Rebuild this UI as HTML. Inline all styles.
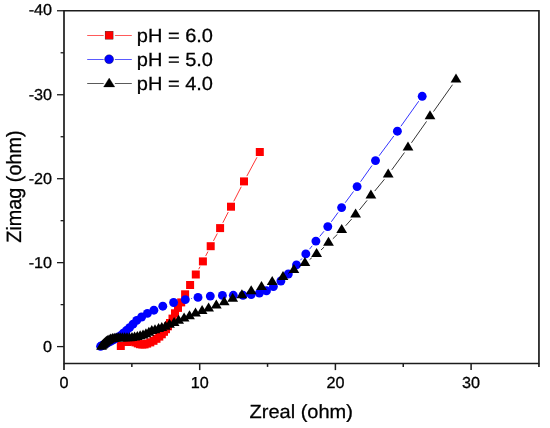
<!DOCTYPE html>
<html lang="en"><head><meta charset="utf-8"><title>Nyquist plot</title>
<style>html,body{margin:0;padding:0;background:#fff}body{width:550px;height:428px;overflow:hidden}</style></head>
<body>
<svg width="550" height="428" viewBox="0 0 550 428" style="display:block">
<rect width="550" height="428" fill="#fff"/>
<g id="red">
<line x1="198.66" y1="269.22" x2="200.04" y2="266.68" stroke="#ff0000" stroke-width="0.8"/>
<line x1="205.64" y1="256.06" x2="207.96" y2="251.54" stroke="#ff0000" stroke-width="0.8"/>
<line x1="213.47" y1="240.88" x2="217.33" y2="233.42" stroke="#ff0000" stroke-width="0.8"/>
<line x1="222.82" y1="222.75" x2="228.28" y2="212.05" stroke="#ff0000" stroke-width="0.8"/>
<line x1="233.74" y1="201.36" x2="241.26" y2="186.74" stroke="#ff0000" stroke-width="0.8"/>
<line x1="246.84" y1="176.11" x2="256.96" y2="157.29" stroke="#ff0000" stroke-width="0.8"/>
<rect x="116.80" y="342.00" width="8" height="8" fill="#ff0000"/>
<rect x="123.00" y="338.00" width="8" height="8" fill="#ff0000"/>
<rect x="126.00" y="337.40" width="8" height="8" fill="#ff0000"/>
<rect x="129.00" y="337.50" width="8" height="8" fill="#ff0000"/>
<rect x="131.50" y="338.40" width="8" height="8" fill="#ff0000"/>
<rect x="133.80" y="339.40" width="8" height="8" fill="#ff0000"/>
<rect x="136.00" y="340.20" width="8" height="8" fill="#ff0000"/>
<rect x="138.30" y="340.50" width="8" height="8" fill="#ff0000"/>
<rect x="140.60" y="340.40" width="8" height="8" fill="#ff0000"/>
<rect x="143.20" y="339.60" width="8" height="8" fill="#ff0000"/>
<rect x="146.30" y="338.40" width="8" height="8" fill="#ff0000"/>
<rect x="149.50" y="336.80" width="8" height="8" fill="#ff0000"/>
<rect x="152.50" y="334.80" width="8" height="8" fill="#ff0000"/>
<rect x="155.30" y="332.60" width="8" height="8" fill="#ff0000"/>
<rect x="157.80" y="330.30" width="8" height="8" fill="#ff0000"/>
<rect x="160.00" y="327.80" width="8" height="8" fill="#ff0000"/>
<rect x="162.00" y="325.20" width="8" height="8" fill="#ff0000"/>
<rect x="164.00" y="322.30" width="8" height="8" fill="#ff0000"/>
<rect x="166.00" y="319.00" width="8" height="8" fill="#ff0000"/>
<rect x="168.50" y="314.60" width="8" height="8" fill="#ff0000"/>
<rect x="171.00" y="309.30" width="8" height="8" fill="#ff0000"/>
<rect x="174.00" y="303.90" width="8" height="8" fill="#ff0000"/>
<rect x="177.20" y="298.40" width="8" height="8" fill="#ff0000"/>
<rect x="181.10" y="290.30" width="8" height="8" fill="#ff0000"/>
<rect x="186.10" y="281.00" width="8" height="8" fill="#ff0000"/>
<rect x="191.80" y="270.50" width="8" height="8" fill="#ff0000"/>
<rect x="198.90" y="257.40" width="8" height="8" fill="#ff0000"/>
<rect x="206.70" y="242.20" width="8" height="8" fill="#ff0000"/>
<rect x="216.10" y="224.10" width="8" height="8" fill="#ff0000"/>
<rect x="227.00" y="202.70" width="8" height="8" fill="#ff0000"/>
<rect x="240.00" y="177.40" width="8" height="8" fill="#ff0000"/>
<rect x="255.80" y="148.00" width="8" height="8" fill="#ff0000"/>
</g><g id="blue">
<line x1="191.21" y1="298.58" x2="192.09" y2="298.42" stroke="#0000ff" stroke-width="0.8"/>
<line x1="300.37" y1="260.32" x2="301.93" y2="258.48" stroke="#0000ff" stroke-width="0.8"/>
<line x1="309.52" y1="249.19" x2="312.18" y2="245.81" stroke="#0000ff" stroke-width="0.8"/>
<line x1="319.71" y1="236.46" x2="323.99" y2="231.24" stroke="#0000ff" stroke-width="0.8"/>
<line x1="331.33" y1="221.75" x2="338.07" y2="212.45" stroke="#0000ff" stroke-width="0.8"/>
<line x1="345.16" y1="202.77" x2="353.54" y2="191.43" stroke="#0000ff" stroke-width="0.8"/>
<line x1="360.57" y1="181.70" x2="372.03" y2="165.50" stroke="#0000ff" stroke-width="0.8"/>
<line x1="379.08" y1="155.79" x2="393.82" y2="136.01" stroke="#0000ff" stroke-width="0.8"/>
<line x1="400.88" y1="126.31" x2="418.72" y2="101.19" stroke="#0000ff" stroke-width="0.8"/>
<circle cx="100.60" cy="346.30" r="4.45" fill="#0000ff"/>
<circle cx="101.89" cy="345.66" r="4.45" fill="#0000ff"/>
<circle cx="103.30" cy="344.95" r="4.45" fill="#0000ff"/>
<circle cx="104.84" cy="344.18" r="4.45" fill="#0000ff"/>
<circle cx="106.55" cy="343.33" r="4.45" fill="#0000ff"/>
<circle cx="108.41" cy="342.39" r="4.45" fill="#0000ff"/>
<circle cx="110.45" cy="341.35" r="4.45" fill="#0000ff"/>
<circle cx="112.66" cy="340.16" r="4.45" fill="#0000ff"/>
<circle cx="115.09" cy="338.84" r="4.45" fill="#0000ff"/>
<circle cx="117.76" cy="337.40" r="4.45" fill="#0000ff"/>
<circle cx="120.53" cy="335.59" r="4.45" fill="#0000ff"/>
<circle cx="123.30" cy="333.21" r="4.45" fill="#0000ff"/>
<circle cx="126.31" cy="330.56" r="4.45" fill="#0000ff"/>
<circle cx="129.57" cy="327.60" r="4.45" fill="#0000ff"/>
<circle cx="133.01" cy="324.22" r="4.45" fill="#0000ff"/>
<circle cx="136.70" cy="320.40" r="4.45" fill="#0000ff"/>
<circle cx="141.60" cy="317.00" r="4.45" fill="#0000ff"/>
<circle cx="147.40" cy="313.40" r="4.45" fill="#0000ff"/>
<circle cx="153.90" cy="310.20" r="4.45" fill="#0000ff"/>
<circle cx="162.80" cy="306.20" r="4.45" fill="#0000ff"/>
<circle cx="173.60" cy="302.50" r="4.45" fill="#0000ff"/>
<circle cx="185.30" cy="299.60" r="4.45" fill="#0000ff"/>
<circle cx="198.00" cy="297.40" r="4.45" fill="#0000ff"/>
<circle cx="210.30" cy="296.10" r="4.45" fill="#0000ff"/>
<circle cx="222.40" cy="295.40" r="4.45" fill="#0000ff"/>
<circle cx="233.30" cy="295.30" r="4.45" fill="#0000ff"/>
<circle cx="243.00" cy="295.30" r="4.45" fill="#0000ff"/>
<circle cx="251.20" cy="294.50" r="4.45" fill="#0000ff"/>
<circle cx="259.40" cy="293.10" r="4.45" fill="#0000ff"/>
<circle cx="266.50" cy="290.80" r="4.45" fill="#0000ff"/>
<circle cx="273.40" cy="286.60" r="4.45" fill="#0000ff"/>
<circle cx="280.90" cy="281.00" r="4.45" fill="#0000ff"/>
<circle cx="288.30" cy="274.00" r="4.45" fill="#0000ff"/>
<circle cx="296.50" cy="264.90" r="4.45" fill="#0000ff"/>
<circle cx="305.80" cy="253.90" r="4.45" fill="#0000ff"/>
<circle cx="315.90" cy="241.10" r="4.45" fill="#0000ff"/>
<circle cx="327.80" cy="226.60" r="4.45" fill="#0000ff"/>
<circle cx="341.60" cy="207.60" r="4.45" fill="#0000ff"/>
<circle cx="357.10" cy="186.60" r="4.45" fill="#0000ff"/>
<circle cx="375.50" cy="160.60" r="4.45" fill="#0000ff"/>
<circle cx="397.40" cy="131.20" r="4.45" fill="#0000ff"/>
<circle cx="422.20" cy="96.30" r="4.45" fill="#0000ff"/>
</g><g id="black">
<line x1="288.05" y1="273.96" x2="288.85" y2="273.44" stroke="#000000" stroke-width="0.8"/>
<line x1="298.96" y1="266.98" x2="299.84" y2="266.42" stroke="#000000" stroke-width="0.8"/>
<line x1="309.64" y1="259.52" x2="311.86" y2="257.78" stroke="#000000" stroke-width="0.8"/>
<line x1="320.99" y1="250.01" x2="324.11" y2="247.09" stroke="#000000" stroke-width="0.8"/>
<line x1="332.81" y1="238.82" x2="337.39" y2="234.38" stroke="#000000" stroke-width="0.8"/>
<line x1="345.69" y1="225.72" x2="351.61" y2="219.08" stroke="#000000" stroke-width="0.8"/>
<line x1="359.38" y1="209.94" x2="367.12" y2="200.36" stroke="#000000" stroke-width="0.8"/>
<line x1="374.72" y1="191.07" x2="384.38" y2="179.33" stroke="#000000" stroke-width="0.8"/>
<line x1="391.75" y1="169.86" x2="404.45" y2="152.54" stroke="#000000" stroke-width="0.8"/>
<line x1="411.46" y1="142.80" x2="426.54" y2="121.40" stroke="#000000" stroke-width="0.8"/>
<line x1="433.47" y1="111.60" x2="452.53" y2="84.70" stroke="#000000" stroke-width="0.8"/>
<polygon points="101.50,340.70 106.90,349.70 96.10,349.70" fill="#000"/>
<polygon points="102.37,339.76 107.77,348.76 96.97,348.76" fill="#000"/>
<polygon points="103.27,338.79 108.67,347.79 97.87,347.79" fill="#000"/>
<polygon points="104.23,337.79 109.63,346.79 98.83,346.79" fill="#000"/>
<polygon points="105.29,336.81 110.69,345.81 99.89,345.81" fill="#000"/>
<polygon points="106.39,335.78 111.79,344.78 100.99,344.78" fill="#000"/>
<polygon points="107.70,334.93 113.10,343.93 102.30,343.93" fill="#000"/>
<polygon points="109.13,334.15 114.53,343.15 103.73,343.15" fill="#000"/>
<polygon points="110.70,333.50 116.10,342.50 105.30,342.50" fill="#000"/>
<polygon points="112.40,333.01 117.80,342.01 107.00,342.01" fill="#000"/>
<polygon points="114.21,332.66 119.61,341.66 108.81,341.66" fill="#000"/>
<polygon points="116.12,332.49 121.52,341.49 110.72,341.49" fill="#000"/>
<polygon points="118.12,332.34 123.52,341.34 112.72,341.34" fill="#000"/>
<polygon points="120.20,332.20 125.60,341.20 114.80,341.20" fill="#000"/>
<polygon points="122.37,332.20 127.77,341.20 116.97,341.20" fill="#000"/>
<polygon points="124.64,332.20 130.04,341.20 119.24,341.20" fill="#000"/>
<polygon points="126.99,332.20 132.39,341.20 121.59,341.20" fill="#000"/>
<polygon points="129.45,332.20 134.85,341.20 124.05,341.20" fill="#000"/>
<polygon points="131.99,331.96 137.39,340.96 126.59,340.96" fill="#000"/>
<polygon points="134.62,331.56 140.02,340.56 129.22,340.56" fill="#000"/>
<polygon points="137.33,330.92 142.73,339.92 131.93,339.92" fill="#000"/>
<polygon points="140.13,330.21 145.53,339.21 134.73,339.21" fill="#000"/>
<polygon points="143.05,329.45 148.45,338.45 137.65,338.45" fill="#000"/>
<polygon points="145.96,328.32 151.36,337.32 140.56,337.32" fill="#000"/>
<polygon points="148.89,326.86 154.29,335.86 143.49,335.86" fill="#000"/>
<polygon points="151.80,325.10 157.20,334.10 146.40,334.10" fill="#000"/>
<polygon points="155.00,324.30 160.40,333.30 149.60,333.30" fill="#000"/>
<polygon points="158.60,323.10 164.00,332.10 153.20,332.10" fill="#000"/>
<polygon points="161.80,322.00 167.20,331.00 156.40,331.00" fill="#000"/>
<polygon points="165.50,320.70 170.90,329.70 160.10,329.70" fill="#000"/>
<polygon points="169.50,318.80 174.90,327.80 164.10,327.80" fill="#000"/>
<polygon points="174.10,317.00 179.50,326.00 168.70,326.00" fill="#000"/>
<polygon points="178.60,314.80 184.00,323.80 173.20,323.80" fill="#000"/>
<polygon points="184.10,312.50 189.50,321.50 178.70,321.50" fill="#000"/>
<polygon points="189.50,310.20 194.90,319.20 184.10,319.20" fill="#000"/>
<polygon points="195.50,307.50 200.90,316.50 190.10,316.50" fill="#000"/>
<polygon points="202.10,305.00 207.50,314.00 196.70,314.00" fill="#000"/>
<polygon points="208.60,302.50 214.00,311.50 203.20,311.50" fill="#000"/>
<polygon points="216.30,299.60 221.70,308.60 210.90,308.60" fill="#000"/>
<polygon points="224.20,296.30 229.60,305.30 218.80,305.30" fill="#000"/>
<polygon points="232.70,292.70 238.10,301.70 227.30,301.70" fill="#000"/>
<polygon points="241.90,289.30 247.30,298.30 236.50,298.30" fill="#000"/>
<polygon points="251.20,285.20 256.60,294.20 245.80,294.20" fill="#000"/>
<polygon points="261.50,281.10 266.90,290.10 256.10,290.10" fill="#000"/>
<polygon points="272.20,275.90 277.60,284.90 266.80,284.90" fill="#000"/>
<polygon points="283.00,271.00 288.40,280.00 277.60,280.00" fill="#000"/>
<polygon points="293.90,264.00 299.30,273.00 288.50,273.00" fill="#000"/>
<polygon points="304.90,257.00 310.30,266.00 299.50,266.00" fill="#000"/>
<polygon points="316.60,247.90 322.00,256.90 311.20,256.90" fill="#000"/>
<polygon points="328.50,236.80 333.90,245.80 323.10,245.80" fill="#000"/>
<polygon points="341.70,224.00 347.10,233.00 336.30,233.00" fill="#000"/>
<polygon points="355.60,208.40 361.00,217.40 350.20,217.40" fill="#000"/>
<polygon points="370.90,189.50 376.30,198.50 365.50,198.50" fill="#000"/>
<polygon points="388.20,168.50 393.60,177.50 382.80,177.50" fill="#000"/>
<polygon points="408.00,141.50 413.40,150.50 402.60,150.50" fill="#000"/>
<polygon points="430.00,110.30 435.40,119.30 424.60,119.30" fill="#000"/>
<polygon points="456.00,73.60 461.40,82.60 450.60,82.60" fill="#000"/>
</g>
<g id="axes" stroke="#1c1c1c" fill="none">
<line x1="64.0" y1="10.1" x2="64.0" y2="364.15" stroke-width="1.7"/>
<line x1="538.95" y1="10.1" x2="538.95" y2="364.15" stroke-width="1.7"/>
<line x1="64.0" y1="10.75" x2="538.95" y2="10.75" stroke-width="1.3"/>
<line x1="64.0" y1="363.5" x2="538.95" y2="363.5" stroke-width="1.3"/>
<line x1="64.00" y1="363.5" x2="64.00" y2="370.1" stroke-width="1.7"/>
<line x1="131.85" y1="363.5" x2="131.85" y2="366.9" stroke-width="1.5"/>
<line x1="199.70" y1="363.5" x2="199.70" y2="370.1" stroke-width="1.5"/>
<line x1="267.55" y1="363.5" x2="267.55" y2="366.9" stroke-width="1.5"/>
<line x1="335.40" y1="363.5" x2="335.40" y2="370.1" stroke-width="1.5"/>
<line x1="403.25" y1="363.5" x2="403.25" y2="366.9" stroke-width="1.5"/>
<line x1="471.10" y1="363.5" x2="471.10" y2="370.1" stroke-width="1.5"/>
<line x1="538.95" y1="363.5" x2="538.95" y2="366.9" stroke-width="1.7"/>
<line x1="57.0" y1="10.75" x2="64.0" y2="10.75" stroke-width="1.3"/>
<line x1="60.6" y1="52.78" x2="64.0" y2="52.78" stroke-width="1.3"/>
<line x1="57.0" y1="94.75" x2="64.0" y2="94.75" stroke-width="1.3"/>
<line x1="60.6" y1="136.73" x2="64.0" y2="136.73" stroke-width="1.3"/>
<line x1="57.0" y1="178.70" x2="64.0" y2="178.70" stroke-width="1.3"/>
<line x1="60.6" y1="220.68" x2="64.0" y2="220.68" stroke-width="1.3"/>
<line x1="57.0" y1="262.65" x2="64.0" y2="262.65" stroke-width="1.3"/>
<line x1="60.6" y1="304.62" x2="64.0" y2="304.62" stroke-width="1.3"/>
<line x1="57.0" y1="346.60" x2="64.0" y2="346.60" stroke-width="1.3"/>
</g>
<g font-family="'Liberation Sans', sans-serif" text-rendering="geometricPrecision" stroke="#000" stroke-width="0.3" font-size="16.2" fill="#000">
<text transform="translate(64.00,388.10) scale(1.0,0.985)" text-anchor="middle">0</text>
<text transform="translate(199.70,388.10) scale(1.0,0.985)" text-anchor="middle">10</text>
<text transform="translate(335.40,388.10) scale(1.0,0.985)" text-anchor="middle">20</text>
<text transform="translate(471.10,388.10) scale(1.0,0.985)" text-anchor="middle">30</text>
<text transform="translate(52.10,351.70) scale(1.0,0.975)" text-anchor="end">0</text>
<text transform="translate(52.10,267.75) scale(1.0,0.975)" text-anchor="end">-10</text>
<text transform="translate(52.10,183.80) scale(1.0,0.975)" text-anchor="end">-20</text>
<text transform="translate(52.10,99.85) scale(1.0,0.975)" text-anchor="end">-30</text>
<text transform="translate(52.10,15.10) scale(1.0,0.975)" text-anchor="end">-40</text>
</g>
<g font-family="'Liberation Sans', sans-serif" text-rendering="geometricPrecision" stroke="#000" stroke-width="0.3" font-size="20" fill="#000">
<text transform="translate(301.20,418.20) scale(1.0,0.95)" text-anchor="middle">Zreal (ohm)</text>
<text transform="translate(20.90,186.60) rotate(-90) scale(0.99,1.03)" text-anchor="middle">Zimag (ohm)</text>
</g>
<g id="legend" font-family="'Liberation Sans', sans-serif" text-rendering="geometricPrecision" stroke="#000" stroke-width="0.3" font-size="20" fill="#000">
<line x1="87.2" y1="35.5" x2="103.7" y2="35.5" stroke="#ff0000" stroke-width="0.65"/>
<line x1="114.9" y1="35.5" x2="131.8" y2="35.5" stroke="#ff0000" stroke-width="0.65"/>
<rect x="105.1" y="31.200000000000003" width="8" height="8" fill="#ff0000"/>
<text transform="translate(136.80,41.70) scale(1.0,0.95)" text-anchor="start">pH = 6.0</text>
<line x1="87.2" y1="59.5" x2="103.7" y2="59.5" stroke="#0000ff" stroke-width="0.65"/>
<line x1="114.9" y1="59.5" x2="131.8" y2="59.5" stroke="#0000ff" stroke-width="0.65"/>
<circle cx="109.1" cy="59.2" r="4.5" fill="#0000ff"/>
<text transform="translate(136.80,65.70) scale(1.0,0.95)" text-anchor="start">pH = 5.0</text>
<line x1="87.2" y1="83.5" x2="103.7" y2="83.5" stroke="#000000" stroke-width="0.65"/>
<line x1="114.9" y1="83.5" x2="131.8" y2="83.5" stroke="#000000" stroke-width="0.65"/>
<polygon points="109.20,78.10 114.80,86.90 103.60,86.90" fill="#000"/>
<text transform="translate(136.80,90.10) scale(1.0,0.95)" text-anchor="start">pH = 4.0</text>
</g>
</svg>
</body></html>
